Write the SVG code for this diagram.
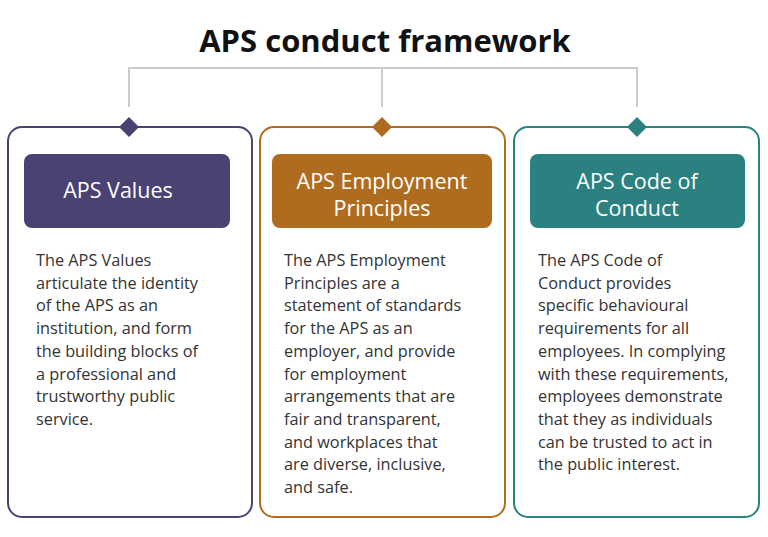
<svg xmlns="http://www.w3.org/2000/svg" width="768" height="537" viewBox="0 0 768 537">
<style>
text{font-family:"Open Sans","Liberation Sans",sans-serif}
.t{font-size:31px;font-weight:bold;fill:#111}
.h{font-size:21.5px;fill:#fff;text-anchor:middle}
.b{font-size:16.3px;fill:#333}
.box{fill:#fff;stroke-width:2}
.c{fill:none;stroke:#ccc;stroke-width:2}
</style>
<rect width="768" height="537" fill="#fff"/>
<text class="t" x="385" y="52" text-anchor="middle">APS conduct framework</text>
<g id="connectors">
<path class="c" d="M129 107V68H637V107M382 68V107"/>
</g>
<g id="values">
<rect class="box" x="8" y="127" width="244" height="390" rx="14" stroke="#4a4272"/>
<path d="M129 117l10 10-10 10-10-10z" fill="#4a4272"/>
<rect x="24" y="154" width="206" height="74" rx="8" fill="#4a4272"/>
<text class="h" x="118" y="198">APS Values</text>
<text class="b" x="36"><tspan x="36" y="266">The APS Values</tspan><tspan x="36" dy="22.7">articulate the identity</tspan><tspan x="36" dy="22.7">of the APS as an</tspan><tspan x="36" dy="22.7">institution, and form</tspan><tspan x="36" dy="22.7">the building blocks of</tspan><tspan x="36" dy="22.7">a professional and</tspan><tspan x="36" dy="22.7">trustworthy public</tspan><tspan x="36" dy="22.7">service.</tspan></text>
</g>
<g id="principles">
<rect class="box" x="260" y="127" width="245" height="390" rx="14" stroke="#b06c1e"/>
<path d="M382 117l10 10-10 10-10-10z" fill="#b06c1e"/>
<rect x="272" y="154" width="220" height="74" rx="8" fill="#b06c1e"/>
<text class="h" x="382" y="189">APS Employment</text>
<text class="h" x="382" y="216">Principles</text>
<text class="b"><tspan x="284" y="266">The APS Employment</tspan><tspan x="284" dy="22.7">Principles are a</tspan><tspan x="284" dy="22.7">statement of standards</tspan><tspan x="284" dy="22.7">for the APS as an</tspan><tspan x="284" dy="22.7">employer, and provide</tspan><tspan x="284" dy="22.7">for employment</tspan><tspan x="284" dy="22.7">arrangements that are</tspan><tspan x="284" dy="22.7">fair and transparent,</tspan><tspan x="284" dy="22.7">and workplaces that</tspan><tspan x="284" dy="22.7">are diverse, inclusive,</tspan><tspan x="284" dy="22.7">and safe.</tspan></text>
</g>
<g id="code">
<rect class="box" x="514" y="127" width="245" height="390" rx="14" stroke="#2b8080"/>
<path d="M637 117l10 10-10 10-10-10z" fill="#2b8080"/>
<rect x="530" y="154" width="215" height="74" rx="8" fill="#2b8080"/>
<text class="h" x="637" y="189">APS Code of</text>
<text class="h" x="637" y="216">Conduct</text>
<text class="b"><tspan x="538" y="266">The APS Code of</tspan><tspan x="538" dy="22.7">Conduct provides</tspan><tspan x="538" dy="22.7">specific behavioural</tspan><tspan x="538" dy="22.7">requirements for all</tspan><tspan x="538" dy="22.7">employees. In complying</tspan><tspan x="538" dy="22.7">with these requirements,</tspan><tspan x="538" dy="22.7">employees demonstrate</tspan><tspan x="538" dy="22.7">that they as individuals</tspan><tspan x="538" dy="22.7">can be trusted to act in</tspan><tspan x="538" dy="22.7">the public interest.</tspan></text>
</g>
</svg>
